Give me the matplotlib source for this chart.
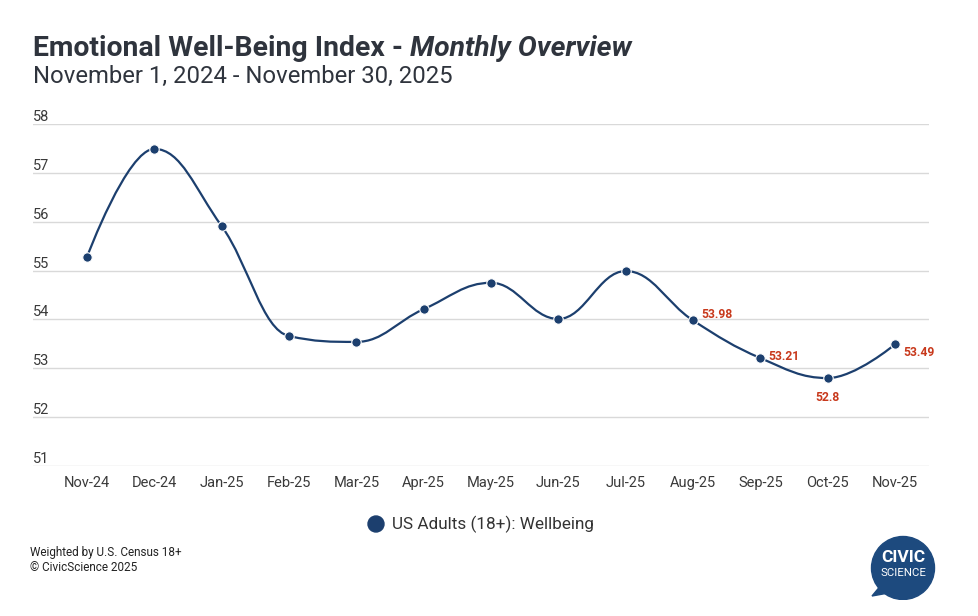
import numpy as np
import matplotlib.pyplot as plt
from matplotlib.path import Path
from matplotlib.patches import PathPatch, Circle, Ellipse, Polygon
from matplotlib import transforms

plt.rcParams['font.family'] = ['Roboto', 'DejaVu Sans']

months = ['Nov-24', 'Dec-24', 'Jan-25', 'Feb-25', 'Mar-25', 'Apr-25', 'May-25',
          'Jun-25', 'Jul-25', 'Aug-25', 'Sep-25', 'Oct-25', 'Nov-25']
wellbeing = [55.28, 57.49, 55.91, 53.66, 53.54, 54.21, 54.75,
             54.01, 54.99, 53.98, 53.21, 52.80, 53.49]
y_ticks = [51, 52, 53, 54, 55, 56, 57, 58]
# only the last four points carry a label
labelled = {9: '53.98', 10: '53.21', 11: '52.8', 12: '53.49'}

NAVY = '#1c3f6e'
RED = '#c8391c'
DARK = '#2f343d'


def spline_path(xs, ys, smoothing=1.5):
    # highcharts-like spline: cubic bezier through every point
    n = len(xs)
    left = [(x, y) for x, y in zip(xs, ys)]
    right = [(x, y) for x, y in zip(xs, ys)]
    denom = smoothing + 1
    for i in range(1, n - 1):
        x, y = xs[i], ys[i]
        lx, ly = xs[i - 1], ys[i - 1]
        nx, ny = xs[i + 1], ys[i + 1]
        lcx = (smoothing * x + lx) / denom
        lcy = (smoothing * y + ly) / denom
        rcx = (smoothing * x + nx) / denom
        rcy = (smoothing * y + ny) / denom
        if rcx != lcx:
            corr = ((rcy - lcy) * (rcx - x)) / (rcx - lcx) + y - rcy
            lcy += corr
            rcy += corr
        if lcy > ly and lcy > y:
            lcy = max(ly, y)
            rcy = 2 * y - lcy
        elif lcy < ly and lcy < y:
            lcy = min(ly, y)
            rcy = 2 * y - lcy
        if rcy > ny and rcy > y:
            rcy = max(ny, y)
            lcy = 2 * y - rcy
        elif rcy < ny and rcy < y:
            rcy = min(ny, y)
            lcy = 2 * y - rcy
        left[i] = (lcx, lcy)
        right[i] = (rcx, rcy)
    verts = [(xs[0], ys[0])]
    codes = [Path.MOVETO]
    for i in range(1, n):
        verts += [right[i - 1], left[i], (xs[i], ys[i])]
        codes += [Path.CURVE4] * 3
    return Path(verts, codes)


fig = plt.figure(figsize=(9.79, 6.16), dpi=100)
W, H = 979, 616
ax = fig.add_axes([33 / W, 1 - 466 / H, (929 - 33) / W, (466 - 124) / H])

x = np.arange(len(months))
ax.set_xlim(-0.802, len(months) - 1 + 0.505)
ax.set_ylim(51, 58)

ax.add_patch(PathPatch(spline_path(x, wellbeing), facecolor='none',
                       edgecolor=NAVY, lw=1.6, zorder=3))
ax.plot(x, wellbeing, 'o', color=NAVY, ms=6.8, mec='white', mew=0.8,
        zorder=4, clip_on=False)

for s in ax.spines.values():
    s.set_visible(False)
ax.set_yticks(y_ticks)
ax.yaxis.grid(True, color='#d9d9d9', lw=1)
ax.set_axisbelow(True)
ax.tick_params(axis='y', length=0, labelleft=False)
ax.tick_params(axis='x', length=0, pad=7, labelsize=10.5, labelcolor='#3a3a3a')
ax.set_xticks(x)
ax.set_xticklabels(months)

# y labels sit above their gridline at the left edge
ytrans = transforms.blended_transform_factory(ax.transAxes, ax.transData)
for t in y_ticks:
    ax.text(0, t, str(t), transform=ytrans, ha='left', va='bottom',
            fontsize=10.5, color='#3a3a3a')

offsets = {9: (6, 4, 'left', 'center'), 10: (6, 1, 'left', 'center'),
           11: (0, -9, 'center', 'top'), 12: (6, -6, 'left', 'center')}
for i, txt in labelled.items():
    dx, dy, ha, va = offsets[i]
    ax.annotate(txt, (x[i], wellbeing[i]), xytext=(dx, dy),
                textcoords='offset points', ha=ha, va=va, fontsize=8.7,
                fontweight='bold', color=RED, zorder=5)

# titles
t1 = fig.text(33 / W, 1 - 56 / H, 'Emotional Well-Being Index - ', fontsize=20.4,
              fontweight='bold', color=DARK, ha='left', va='baseline')
fig.canvas.draw()
bb = t1.get_window_extent()
fig.text(bb.x1 / W, 1 - 56 / H, 'Monthly Overview', fontsize=20.4,
         fontweight='bold', style='italic', color=DARK, ha='left', va='baseline')
fig.text(33 / W, 1 - 83 / H, 'November 1, 2024 - November 30, 2025',
         fontsize=17.2, color=DARK, ha='left', va='baseline')

# legend
fig.add_artist(Ellipse((376 / W, 1 - 524 / H), 16 / W, 16 / H, color=NAVY,
                       transform=fig.transFigure))
fig.text(392 / W, 1 - 524 / H, 'US Adults (18+): Wellbeing', fontsize=12.3,
         color='#333333', ha='left', va='center')

# footnote
fig.text(30 / W, 1 - 556 / H, 'Weighted by U.S. Census 18+', fontsize=8.5,
         color='#222222', ha='left', va='baseline')
fig.text(30 / W, 1 - 571 / H, '\u00a9 CivicScience 2025', fontsize=8.5,
         color='#222222', ha='left', va='baseline')

# logo
lax = fig.add_axes([860 / W, 1 - 600 / H, 80 / W, 80 / H])
lax.set_xlim(0, 80)
lax.set_ylim(0, 80)
lax.set_aspect('equal')
lax.axis('off')
LOGO = '#1d4a7e'
lax.add_patch(Circle((43, 32), 31.5, color=LOGO))
lax.add_patch(Polygon([[22, 16], [12, 4], [34, 8]], color=LOGO))
lax.text(43, 38, 'CIVIC', ha='center', va='baseline', color='white',
         fontsize=12.5, fontweight='bold')
lax.text(43, 24, 'SCIENCE', ha='center', va='baseline', color='white',
         fontsize=8.2)

fig.savefig('out.png', dpi=100)
